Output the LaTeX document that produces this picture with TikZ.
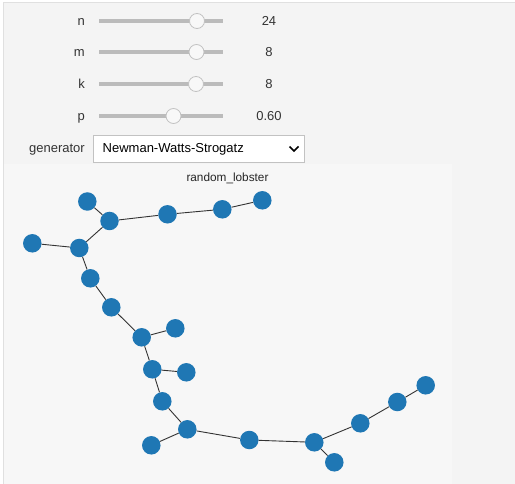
\documentclass[tikz,border=0pt]{standalone}
\usepackage{fontspec}
\setmainfont{Liberation Sans}
\definecolor{nodeblue}{HTML}{1F77B4}
\definecolor{edgegray}{HTML}{333333}
\definecolor{labelgray}{HTML}{333333}
\definecolor{trackgray}{HTML}{BBBBBB}
\definecolor{knobborder}{HTML}{C2C2C2}
\definecolor{knobfill}{HTML}{F8F8F8}
\definecolor{panelbg}{HTML}{F4F4F4}
\definecolor{plotbg}{HTML}{F7F7F7}
\definecolor{borderc}{HTML}{E0E0E0}
\begin{document}
\begin{tikzpicture}[x=1pt,y=-1pt,
  vtx/.style={circle,fill=nodeblue,inner sep=0pt,minimum size=18.5pt},
  edge/.style={draw=edgegray,line width=0.9pt},
  lbl/.style={anchor=base east,font=\fontsize{13}{15}\selectfont,text=labelgray,inner sep=0pt},
  val/.style={anchor=base,font=\fontsize{13}{15}\selectfont,text=labelgray,inner sep=0pt},
  track/.style={draw=trackgray,line width=3.5pt},
  knob/.style={circle,draw=knobborder,fill=knobfill,line width=0.8pt,inner sep=0pt,minimum size=15pt}]
\useasboundingbox (0,0) rectangle (515,484);
\fill[white] (0,0) rectangle (515,484);
\fill[panelbg] (3,3) rectangle (515,484);
\draw[borderc,line width=1pt] (3,484) -- (3,3) -- (515,3);
\fill[plotbg] (3.5,164) rectangle (452,484);
% sliders
\node[lbl] (ln) at (85,25.5) {n};
\node[lbl] (lm) at (85,56.7) {m};
\node[lbl] (lk) at (85,89) {k};
\node[lbl] (lp) at (85,120.7) {p};
\coordinate (ns) at (99,21); \coordinate (ne) at (223,21);
\coordinate (ms) at (99,52); \coordinate (me) at (223,52);
\coordinate (ks) at (99,84); \coordinate (ke) at (223,84);
\coordinate (ps) at (99,116); \coordinate (pe) at (223,116);
\draw[track] (ns) -- (ne);
\draw[track] (ms) -- (me);
\draw[track] (ks) -- (ke);
\draw[track] (ps) -- (pe);
\node[knob] (kn) at (197,21) {};
\node[knob] (km) at (196.5,52) {};
\node[knob] (kk) at (196,84) {};
\node[knob] (kp) at (173.5,116) {};
\node[val] (vn) at (269,25.5) {24};
\node[val] (vm) at (269,56.7) {8};
\node[val] (vk) at (269,89) {8};
\node[val] (vp) at (269,120.7) {0.60};
% dropdown
\node[lbl] (lg) at (85,152.7) {generator};
\node[draw=knobborder,fill=white,line width=0.8pt,minimum width=211pt,minimum height=27.5pt,inner sep=0pt] (dd) at (198.5,149) {};
\node[anchor=base west,font=\fontsize{13}{15}\selectfont,text=black,inner sep=0pt] (ddt) at (102.5,152.7) {Newman-Watts-Strogatz};
\coordinate (chv) at (294,149);
\draw[black,line width=1.6pt] ([xshift=-4.5pt,yshift=2.5pt]chv) -- ([yshift=-2pt]chv) -- ([xshift=4.5pt,yshift=2.5pt]chv);
% title
\node[anchor=base,font=\fontsize{11.8}{14}\selectfont,text=black!85,inner sep=0pt] (title) at (227.5,182) {random\_lobster};
% graph
\node[vtx] (v1) at (87.3,201.5) {};
\node[vtx] (v2) at (109.5,221) {};
\node[vtx] (v3) at (167.5,214.3) {};
\node[vtx] (v4) at (222.3,209.3) {};
\node[vtx] (v5) at (262.3,200.3) {};
\node[vtx] (v6) at (32.3,243.3) {};
\node[vtx] (v7) at (79.3,248) {};
\node[vtx] (v8) at (90.3,278.3) {};
\node[vtx] (v9) at (111.3,307.3) {};
\node[vtx] (v10) at (141.7,337.3) {};
\node[vtx] (v11) at (175.3,328.3) {};
\node[vtx] (v12) at (152.3,369.3) {};
\node[vtx] (v13) at (186.3,372.3) {};
\node[vtx] (v14) at (162.3,401.3) {};
\node[vtx] (v15) at (187.3,429.3) {};
\node[vtx] (v16) at (151.3,445.3) {};
\node[vtx] (v17) at (249.3,440) {};
\node[vtx] (v18) at (314.3,442.3) {};
\node[vtx] (v19) at (334.3,462.3) {};
\node[vtx] (v20) at (360.3,423.3) {};
\node[vtx] (v21) at (397.3,402) {};
\node[vtx] (v22) at (425.7,385.3) {};
\foreach \a/\b in {v1/v2,v2/v3,v3/v4,v4/v5,v2/v7,v6/v7,v7/v8,v8/v9,v9/v10,v10/v11,v10/v12,v12/v13,v12/v14,v14/v15,v15/v16,v15/v17,v17/v18,v18/v19,v18/v20,v20/v21,v21/v22}
  \draw[edge] (\a) -- (\b);
\end{tikzpicture}
\end{document}
